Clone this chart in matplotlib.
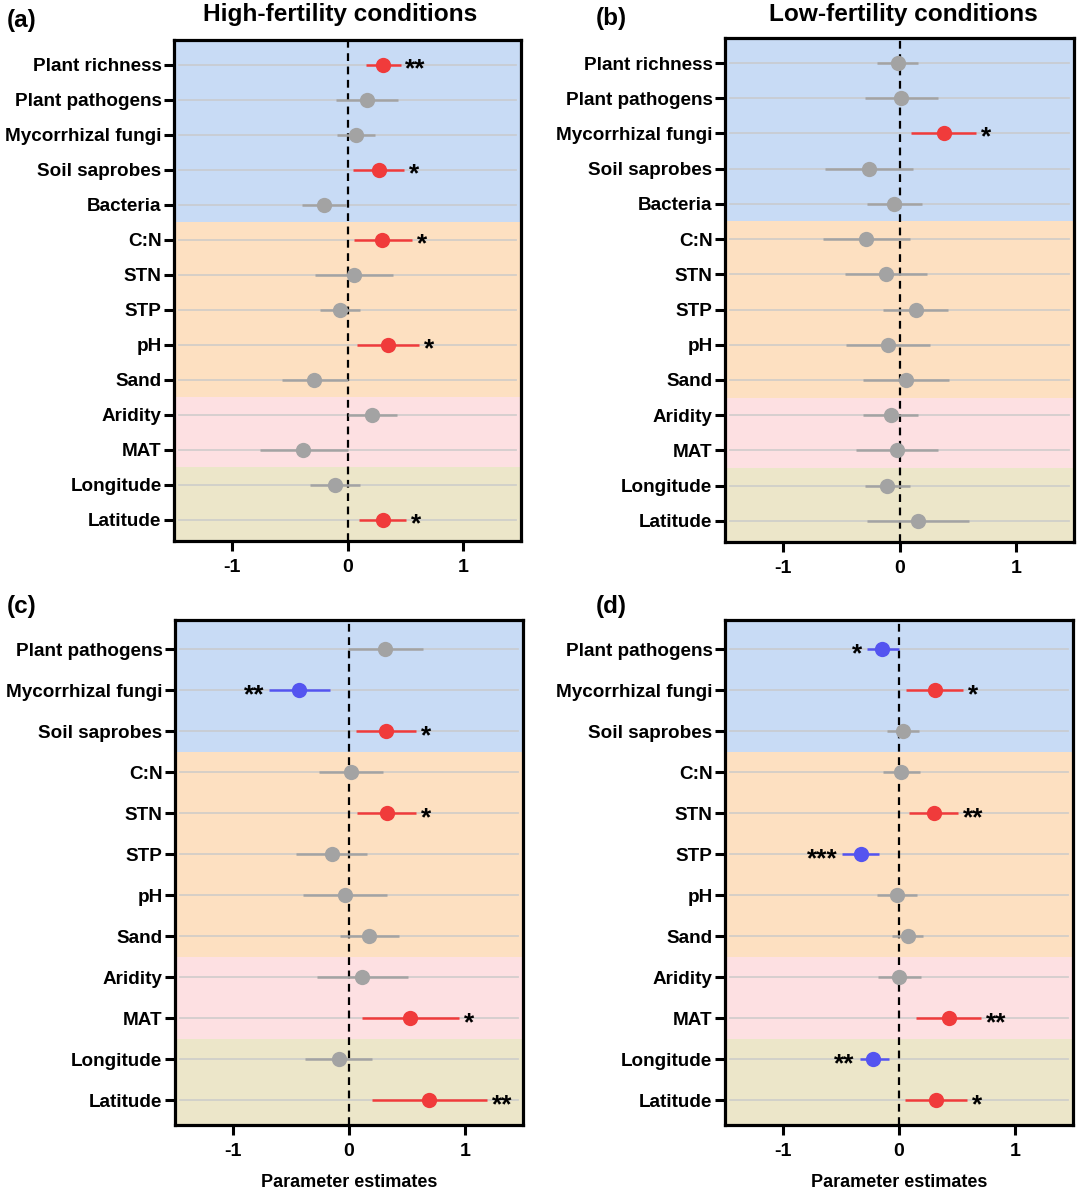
import matplotlib
matplotlib.use("Agg")
import matplotlib.pyplot as plt
import numpy as np

plt.rcParams["font.family"] = ["Liberation Sans", "DejaVu Sans"]
plt.rcParams["font.weight"] = "bold"

# Variables (top to bottom)
vars_top = ["Plant richness", "Plant pathogens", "Mycorrhizal fungi", "Soil saprobes",
            "Bacteria", "C:N", "STN", "STP", "pH", "Sand", "Aridity", "MAT",
            "Longitude", "Latitude"]
vars_bot = ["Plant pathogens", "Mycorrhizal fungi", "Soil saprobes", "C:N", "STN",
            "STP", "pH", "Sand", "Aridity", "MAT", "Longitude", "Latitude"]

# group sizes: biotic, soil, climate, geography
groups_top = [5, 5, 2, 2]
groups_bot = [3, 5, 2, 2]

# (a) high fertility
est_a = [0.31, 0.17, 0.075, 0.27, -0.20, 0.30, 0.055, -0.063, 0.35, -0.29, 0.215, -0.385, -0.106, 0.31]
lo_a = [0.16, -0.10, -0.095, 0.05, -0.39, 0.055, -0.28, -0.24, 0.08, -0.57, 0.0, -0.76, -0.32, 0.10]
hi_a = [0.46, 0.44, 0.24, 0.49, -0.01, 0.56, 0.39, 0.11, 0.62, 0.0, 0.43, 0.0, 0.11, 0.51]
sig_a = ["**", "", "", "*", "", "*", "", "", "*", "", "", "", "", "*"]

# (b) low fertility
est_b = [-0.014, 0.01, 0.385, -0.26, -0.05, -0.29, -0.12, 0.14, -0.095, 0.057, -0.075, -0.02, -0.11, 0.16]
lo_b = [-0.19, -0.30, 0.10, -0.64, -0.28, -0.66, -0.47, -0.14, -0.46, -0.31, -0.31, -0.37, -0.30, -0.28]
hi_b = [0.16, 0.33, 0.66, 0.115, 0.19, 0.09, 0.24, 0.42, 0.26, 0.425, 0.155, 0.33, 0.09, 0.60]
sig_b = ["", "", "*", "", "", "", "", "", "", "", "", "", "", ""]

# (c) high fertility, second model
est_c = [0.31, -0.43, 0.32, 0.017, 0.325, -0.15, -0.037, 0.175, 0.115, 0.53, -0.086, 0.69]
lo_c = [-0.01, -0.69, 0.063, -0.26, 0.066, -0.46, -0.40, -0.08, -0.28, 0.11, -0.38, 0.20]
hi_c = [0.64, -0.16, 0.58, 0.29, 0.58, 0.155, 0.33, 0.43, 0.51, 0.95, 0.20, 1.19]
sig_c = ["", "**", "*", "", "*", "", "", "", "", "*", "", "**"]

# (d) low fertility, second model
est_d = [-0.147, 0.31, 0.035, 0.014, 0.30, -0.33, -0.02, 0.078, 0.0, 0.43, -0.22, 0.32]
lo_d = [-0.28, 0.057, -0.10, -0.14, 0.086, -0.49, -0.19, -0.057, -0.18, 0.15, -0.34, 0.05]
hi_d = [0.0, 0.555, 0.17, 0.18, 0.51, -0.17, 0.155, 0.21, 0.19, 0.71, -0.083, 0.59]
sig_d = ["*", "*", "", "", "**", "***", "", "", "", "**", "**", "*"]

band_colors = ["#c8dbf5", "#fde0c1", "#fde0e2", "#ece6c9"]
RED, BLUE, GRAY = "#f03b3b", "#5454f0", "#a3a3a3"

W, H = 1080, 1193
fig = plt.figure(figsize=(W / 100, H / 100), dpi=100)


def px_axes(left, top, right, bottom):
    return fig.add_axes([left / W, 1 - bottom / H, (right - left) / W, (bottom - top) / H])


def panel(ax, names, groups, est, lo, hi, sig, xlabel=False):
    n = len(names)
    y = np.arange(n)
    ax.set_xlim(-1.5, 1.5)
    ax.set_ylim(n - 0.4, -0.71)
    # background bands
    start = -0.71
    idx = 0
    for g, c in zip(groups, band_colors):
        idx += g
        end = idx - 0.5 if idx < n else n - 0.4
        ax.axhspan(start, end, color=c, lw=0, zorder=0)
        start = end
    for yi in y:
        ax.plot([-1.46, 1.46], [yi, yi], color="#c9c9c9", lw=1.3, alpha=0.8, zorder=1)
    ax.axvline(0, color="black", lw=1.6, ls=(0, (3.5, 2.5)), zorder=2)
    for i in range(n):
        if sig[i]:
            col = RED if est[i] > 0 else BLUE
        else:
            col = GRAY
        ax.plot([lo[i], hi[i]], [i, i], color=col, lw=1.8, zorder=3, solid_capstyle="butt")
        ax.plot(est[i], i, "o", color=col, ms=11, mec="none", zorder=4)
        if sig[i]:
            if est[i] > 0:
                ax.text(hi[i] + 0.04, i + 0.12, sig[i], ha="left", va="center",
                        fontsize=19, fontweight="bold", zorder=5)
            else:
                ax.text(lo[i] - 0.04, i + 0.12, sig[i], ha="right", va="center",
                        fontsize=19, fontweight="bold", zorder=5)
    ax.set_yticks(y)
    ax.set_yticklabels(names, fontsize=13.6, fontweight="bold")
    ax.set_xticks([-1, 0, 1])
    ax.set_xticklabels(["-1", "0", "1"], fontsize=14, fontweight="bold")
    ax.tick_params(axis="both", length=7, width=2.2)
    ax.tick_params(axis="y", pad=2)
    ax.tick_params(axis="x", pad=6)
    for s in ax.spines.values():
        s.set_linewidth(2.3)
        s.set_zorder(6)
    if xlabel:
        ax.set_xlabel("Parameter estimates", fontsize=13, fontweight="bold", labelpad=10)


ax_a = px_axes(174, 40, 521, 541)
ax_b = px_axes(725, 38, 1074, 542)
ax_c = px_axes(175, 620, 523, 1125)
ax_d = px_axes(725, 620, 1073, 1125)

panel(ax_a, vars_top, groups_top, est_a, lo_a, hi_a, sig_a)
panel(ax_b, vars_top, groups_top, est_b, lo_b, hi_b, sig_b)
panel(ax_c, vars_bot, groups_bot, est_c, lo_c, hi_c, sig_c, xlabel=True)
panel(ax_d, vars_bot, groups_bot, est_d, lo_d, hi_d, sig_d, xlabel=True)

fig.text(340 / W, 1 - 14 / H, "High-fertility conditions", ha="center", va="center",
         fontsize=17.6, fontweight="bold")
fig.text(903 / W, 1 - 14 / H, "Low-fertility conditions", ha="center", va="center",
         fontsize=17.6, fontweight="bold")
for lab, x, yv in [("(a)", 7, 20), ("(b)", 596, 18), ("(c)", 7, 607), ("(d)", 596, 607)]:
    fig.text(x / W, 1 - yv / H, lab, ha="left", va="center", fontsize=17.5, fontweight="bold")

fig.savefig("out.png", dpi=100)
